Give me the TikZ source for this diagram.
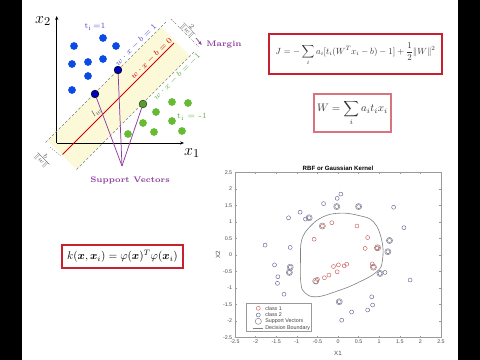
\documentclass[tikz,border=0pt]{standalone}
\usepackage{amsmath,amssymb}
\usepackage{fontspec}
\newfontfamily\plotfont{Liberation Sans}
\usetikzlibrary{arrows.meta,positioning,calc}
\definecolor{svPurple}{HTML}{8E3C9E}
\definecolor{dotBlue}{HTML}{0A4BE6}
\definecolor{dotGreen}{HTML}{66BB33}
\definecolor{bandYellow}{HTML}{FCF9D8}
\definecolor{boxRed}{HTML}{C8202E}
\definecolor{boxPink}{HTML}{D9737D}
\definecolor{cOne}{HTML}{C8504F}
\definecolor{cTwo}{HTML}{5A5A96}
\definecolor{axGray}{HTML}{9A9A9A}
\definecolor{lblBlue}{HTML}{5050C8}
\definecolor{lblGreen}{HTML}{5FAF4A}

\begin{document}
\begin{tikzpicture}[x=0.75pt,y=-0.75pt,
  bdot/.style={circle,fill=dotBlue,inner sep=0pt,minimum size=5.8pt},
  gdot/.style={circle,fill=dotGreen,inner sep=0pt,minimum size=5.8pt},
  bsv/.style={bdot,fill=blue!75!black,draw=black,line width=0.4pt},
  gsv/.style={gdot,fill=dotGreen!85!black,draw=black!80,line width=0.4pt},
  hyper/.style={gray,line width=0.4pt,dash pattern=on 2pt off 1.5pt},
  svline/.style={svPurple,line width=0.55pt},
  svtext/.style={svPurple,font=\fontsize{6}{7}\selectfont\bfseries},
  eqbox/.style={draw,line width=0.8pt,inner sep=0pt,fill=white},
  tiny/.style={gray!70!black,font=\fontsize{4}{5}\selectfont,inner sep=0.5pt},
  ticklab/.style={gray!60!black,font=\plotfont\fontsize{4}{5}\selectfont,inner sep=0.4pt},
  leglab/.style={black!75,font=\plotfont\fontsize{4}{5}\selectfont,anchor=west,inner sep=0pt}]
  % frame of the slide
  \fill[black] (0,0) rectangle (480,360);
  \fill[white] (22,0) rectangle (458,360);
  \useasboundingbox (0,0) rectangle (480,360);

  % --- linear SVM sketch ---
  \fill[bandYellow] (47.5,140.5) -- (76.5,169.5) -- (190,56) -- (161,27) -- cycle;
  \coordinate (O) at (56.7,143);
  \coordinate (ytop) at (56.7,16);
  \coordinate (xend) at (184,143);
  \draw[line width=0.6pt,-{Stealth[length=3pt,width=2.4pt]}] (O) -- (ytop);
  \draw[line width=0.6pt,-{Stealth[length=3pt,width=2.4pt]}] (O) -- (xend);
  \node (x2) at (43,21) {\fontsize{13}{15}\selectfont$x_2$};
  \node (x1) at (192,153) {\fontsize{13}{15}\selectfont$x_1$};

  \coordinate (up1) at (45.5,142.5);
  \coordinate (up2) at (166,22);
  \coordinate (lo1) at (76.5,169.5);
  \coordinate (lo2) at (195,51);
  \coordinate (md1) at (62.5,154.5);
  \coordinate (md2) at (174,43);
  \draw[hyper] (up1) -- (up2);
  \draw[hyper] (lo1) -- (lo2);
  \draw[red!80!black,line width=0.7pt] (md1) -- (md2);

  \node[lblBlue,rotate=45,anchor=south,inner sep=1pt,font=\fontsize{6}{7}\selectfont] (lb1) at (139.5,48.5) {$w\cdot x-b=1$};
  \node[red!80!black,rotate=45,anchor=south,inner sep=1pt,font=\fontsize{6}{7}\selectfont] (lb0) at (155,62) {$w\cdot x-b=0$};
  \node[lblGreen,rotate=45,anchor=north,inner sep=1.5pt,font=\fontsize{6}{7}\selectfont] (lbm) at (173,73) {$w\cdot x-b=-1$};

  % margin and offset marks
  \coordinate (m1) at (171,19);
  \coordinate (m2) at (199,47);
  \draw[gray,line width=0.3pt,dash pattern=on 1.5pt off 1pt on 0.3pt off 1pt] (m1) -- (m2);
  \node[tiny,rotate=-45] (mw) at (189,29) {$\frac{2}{\|w\|}$};
  \coordinate (bd1) at (50,147);
  \coordinate (bd2) at (61,156);
  \draw[gray,line width=0.3pt,dash pattern=on 1pt off 1pt] (bd1) -- (bd2);
  \node[tiny,rotate=-45] (bw) at (43,159) {$\frac{b}{\|w\|}$};
  \coordinate (w1) at (91.7,110.7);
  \coordinate (w2) at (95,116);
  \draw[gray!70!black,line width=0.4pt] (w1) -- (w2);
  \node[tiny,rotate=45] (wl) at (98.5,113) {$w$};

  \node[lblBlue,font=\fontsize{6}{7}\selectfont] (tpos) at (95,27) {t$_{\mathrm i}$\,=1};
  \node[lblGreen,font=\fontsize{6}{7}\selectfont] (tneg) at (192,117) {t$_{\mathrm i}$ = -1};

  % support vector pointers
  \coordinate (svhub) at (122,166);
  \node[bsv] (sv1) at (118,70) {};
  \node[bsv] (sv2) at (95,94) {};
  \node[gsv] (sv3) at (143,104) {};
  \draw[svline] (svhub) -- (sv1);
  \draw[svline] (svhub) -- (sv2);
  \draw[svline] (svhub) -- (sv3);
  \node[svtext] (svlab) at (130,180) {Support Vectors};
  \node[svtext] (margin) at (224,45) {Margin};
  \coordinate (mtail) at (196,38);
  \draw[svline,-{Stealth[length=3pt,width=2.4pt]}] (mtail) -- (margin.west);

  \foreach \p [count=\i] in {(74,46),(103,38),(116,46),(72,64),(88,62),(103,59),(88,76),(72,90)}
    \node[bdot] (b\i) at \p {};
  \foreach \p [count=\i] in {(156,112),(172,102),(188,103),(143,123),(172,121),(154,132),(182,131),(128,134)}
    \node[gdot] (g\i) at \p {};

  % --- formulas ---
  \node[eqbox,draw=boxRed,minimum width=129.75pt,minimum height=30pt] (jbox) at (355.5,54)
    {\color{black!80}\resizebox{120pt}{!}{$\displaystyle J=-\sum_i a_i[t_i(W^Tx_i-b)-1]+\frac{1}{2}\|W\|^2$}};
  \node[eqbox,draw=boxPink,minimum width=57.75pt,minimum height=28.5pt] (wbox) at (352.5,113)
    {\color{black!80}\resizebox{53pt}{!}{$\displaystyle W=\sum_i a_i t_i x_i$}};
  \node[eqbox,draw=boxRed,minimum width=90.75pt,minimum height=17.25pt] (kbox) at (122.5,256.5)
    {\resizebox{83pt}{!}{$k(\boldsymbol{x},\boldsymbol{x}_i)=\varphi(\boldsymbol{x})^T\varphi(\boldsymbol{x}_i)$}};

  % --- RBF kernel plot ---
  \begin{scope}[shift={(338,255)},x=30.9pt,y=24.7pt]
    \draw[axGray,line width=0.3pt] (-2.5,-2.5) rectangle (2.5,2.5);
    \foreach \v in {-2.5,-2,-1.5,-1,-0.5,0,0.5,1,1.5,2,2.5} {
      \draw[axGray,line width=0.3pt] (\v,-2.5) -- ++(0,1.3pt) (\v,2.5) -- ++(0,-1.3pt);
      \draw[axGray,line width=0.3pt] (-2.5,\v) -- ++(1.3pt,0) (2.5,\v) -- ++(-1.3pt,0);
    }
    \foreach \v [count=\k] in {-2.5,-2,-1.5,-1,-0.5,0,0.5,1,1.5,2,2.5} {
      \node[ticklab,anchor=north] (xt\k) at ([yshift=-1.2pt]\v,-2.5) {\v};
      \node[ticklab,anchor=east] (yt\k) at ([xshift=-1.5pt]-2.5,\v) {\v};
    }
    \node[font=\plotfont\fontsize{4.6}{5}\selectfont\bfseries] (ttl) at (0,2.64) {RBF or Gaussian Kernel};
    \node[ticklab,font=\plotfont\fontsize{4.6}{5}\selectfont] (xlab) at (0,-2.98) {X1};
    \node[ticklab,font=\plotfont\fontsize{4.6}{5}\selectfont,rotate=90] (ylab) at (-2.91,0) {X2};

    \draw[gray,line width=0.45pt] plot[smooth cycle,tension=0.7] coordinates {
      (0.05,1.27) (0.5,1.2) (0.86,1.01) (1.06,0.46) (1.08,-0.15) (0.94,-0.51)
      (0.45,-0.86) (-0.03,-1.1) (-0.52,-1.27) (-0.8,-1.15) (-0.9,-0.86)
      (-0.91,-0.15) (-0.88,0.46) (-0.68,0.86) (-0.36,1.16)};

    \foreach \p in {(-1.77,0.3),(-1.54,-0.3),(-1.46,-0.66),(-1.47,-0.86),(-1.31,-1.19),
        (-1.2,1.13),(-1.16,0.23),(-1.16,-0.37),(-1.18,-0.53),(-0.92,1.3),(-0.79,1.09),
        (-0.7,1.13),(-0.35,1.56),(-0.03,1.47),(-0.02,1.72),(0.07,1.85),(0.5,1.47),
        (1.35,1.45),(1.6,0.83),(1.25,0.44),(1.21,0.1),(1.02,-0.56),(1.14,-0.53),
        (1.75,-0.76),(0.82,-1.27),(0.84,-1.52),(0.72,-1.67),(0.33,-1.73),(0.09,-1.98),
        (0.03,-1.42)}
      \draw[cTwo,line width=0.3pt] \p circle[radius=1.5pt];
    \foreach \p in {(-0.38,0.88),(-0.15,0.98),(-0.58,0.48),(0.46,0.88),(0.72,0.53),
        (0.66,0.2),(0.96,0.22),(0.94,0.2),(0.83,-0.27),(0.86,-0.37),(0.21,-0.28),
        (0.15,-0.33),(0.01,-0.3),(-0.11,-0.35),(-0.02,-0.51),(-0.22,-0.61),
        (-0.33,-0.69),(-0.5,-0.74),(-0.54,-0.81)}
      \draw[cOne,line width=0.3pt] \p circle[radius=1.5pt];
    \foreach \p in {(-1.16,-0.37),(-1.18,-0.53),(-0.7,1.13),(-0.03,1.47),(0.5,1.47),
        (1.25,0.44),(1.21,0.1),(1.02,-0.56),(0.86,-0.37),(0.03,-1.42),(-0.38,0.88),
        (0.96,0.22),(-0.54,-0.79)}
      \draw[gray,line width=0.35pt] \p circle[radius=2.3pt];
  \end{scope}

  % legend
  \draw[axGray,fill=white,line width=0.3pt] (246.7,303.3) rectangle (311,331.7);
  \coordinate (lm1) at (258.3,308.3);
  \coordinate (lm2) at (258.3,315);
  \coordinate (lm3) at (258.3,321.3);
  \draw[cOne,line width=0.3pt] (lm1) circle[radius=1.5pt];
  \draw[cTwo,line width=0.3pt] (lm2) circle[radius=1.5pt];
  \draw[gray,line width=0.35pt] (lm3) circle[radius=2.3pt];
  \coordinate (ll1) at (253,328.3);
  \coordinate (ll2) at (263.3,328.3);
  \draw[gray,line width=0.45pt] (ll1) -- (ll2);
  \node[leglab] (lg1) at (265,308.3) {class 1};
  \node[leglab] (lg2) at (265,315) {class 2};
  \node[leglab] (lg3) at (265,321.3) {Support Vectors};
  \node[leglab] (lg4) at (265,328.3) {Decision Boundary};
\end{tikzpicture}
\end{document}
